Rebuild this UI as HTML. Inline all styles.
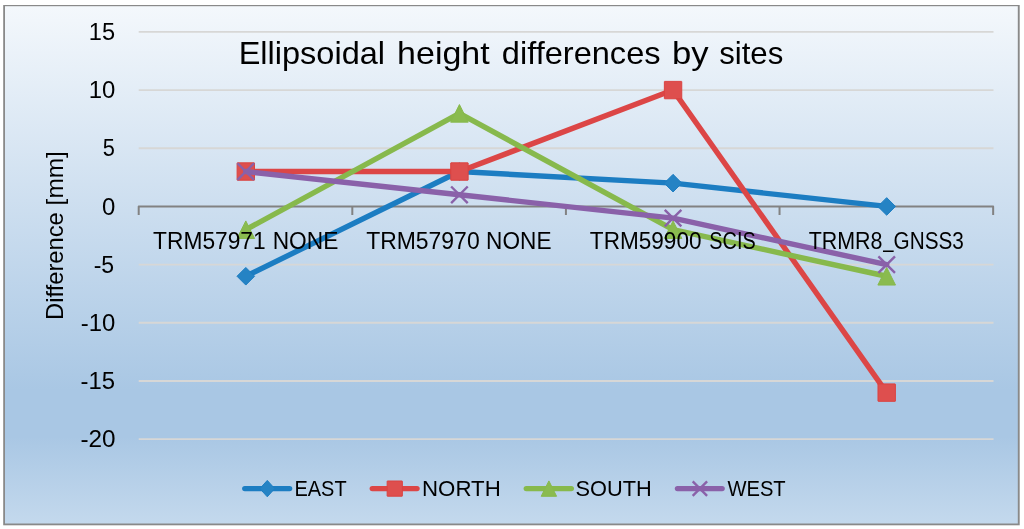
<!DOCTYPE html>
<html><head><meta charset="utf-8"><title>Ellipsoidal height differences by sites</title>
<style>
html,body{margin:0;padding:0;background:#fff;}
body{width:1024px;height:529px;overflow:hidden;}
svg{display:block;}
text{font-family:"Liberation Sans","NanumGothic",sans-serif;fill:#000;}
</style></head><body>
<svg width="1024" height="529" viewBox="0 0 1024 529">
<defs>
<linearGradient id="bg" gradientUnits="userSpaceOnUse" x1="0" y1="5" x2="0" y2="525">
<stop offset="0" stop-color="#F4F8FC"/>
<stop offset="0.74" stop-color="#A9C7E4"/>
<stop offset="0.83" stop-color="#A9C7E4"/>
<stop offset="1" stop-color="#C4D9ED"/>
</linearGradient>
</defs>
<rect x="0" y="0" width="1024" height="529" fill="#fff"/>
<rect x="3.2" y="5" width="1016.5" height="520.3" fill="#898989"/>
<rect x="5" y="6.2" width="1012.8" height="517.3" fill="url(#bg)"/>

<g stroke="#D7D7D6" stroke-width="1.9">
<line x1="138.7" x2="993.5" y1="31.90" y2="31.90"/>
<line x1="138.7" x2="993.5" y1="90.08" y2="90.08"/>
<line x1="138.7" x2="993.5" y1="148.26" y2="148.26"/>
<line x1="138.7" x2="993.5" y1="264.62" y2="264.62"/>
<line x1="138.7" x2="993.5" y1="322.80" y2="322.80"/>
<line x1="138.7" x2="993.5" y1="380.98" y2="380.98"/>
<line x1="138.7" x2="993.5" y1="439.16" y2="439.16"/>
</g>
<path d="M138.70 214.9V206.54H993.15V214.9M352.31 206.54V214.9M565.92 206.54V214.9M779.54 206.54V214.9" stroke="#828282" stroke-width="2" fill="none" stroke-linejoin="round"/>
<polyline points="245.80,276.26 459.43,171.53 673.06,183.17 886.69,206.44" fill="none" stroke="#1C7DC2" stroke-width="5.4" stroke-linecap="round" stroke-linejoin="round"/>
<path d="M245.80 267.46L254.60 276.26L245.80 285.06L237.00 276.26Z" fill="#2583C4" stroke="#1C7DC2" stroke-width="1" stroke-linejoin="round"/>
<path d="M459.43 162.73L468.23 171.53L459.43 180.33L450.63 171.53Z" fill="#2583C4" stroke="#1C7DC2" stroke-width="1" stroke-linejoin="round"/>
<path d="M673.06 174.37L681.86 183.17L673.06 191.97L664.26 183.17Z" fill="#2583C4" stroke="#1C7DC2" stroke-width="1" stroke-linejoin="round"/>
<path d="M886.69 197.64L895.49 206.44L886.69 215.24L877.89 206.44Z" fill="#2583C4" stroke="#1C7DC2" stroke-width="1" stroke-linejoin="round"/>
<polyline points="245.80,171.53 459.43,171.53 673.06,90.08 886.69,392.62" fill="none" stroke="#DC4646" stroke-width="5.4" stroke-linecap="round" stroke-linejoin="round"/>
<rect x="237.10" y="162.83" width="17.40" height="17.40" rx="0.3" fill="#DE4F4E" stroke="#DA4341" stroke-width="1"/>
<rect x="450.73" y="162.83" width="17.40" height="17.40" rx="0.3" fill="#DE4F4E" stroke="#DA4341" stroke-width="1"/>
<rect x="664.36" y="81.38" width="17.40" height="17.40" rx="0.3" fill="#DE4F4E" stroke="#DA4341" stroke-width="1"/>
<rect x="877.99" y="383.92" width="17.40" height="17.40" rx="0.3" fill="#DE4F4E" stroke="#DA4341" stroke-width="1"/>
<polyline points="245.80,229.71 459.43,113.35 673.06,229.71 886.69,276.26" fill="none" stroke="#87B94C" stroke-width="5.4" stroke-linecap="round" stroke-linejoin="round"/>
<path d="M245.80 220.91L254.60 238.51L237.00 238.51Z" fill="#8ABB4F" stroke="#87B94C" stroke-width="1" stroke-linejoin="round"/>
<path d="M459.43 104.55L468.23 122.15L450.63 122.15Z" fill="#8ABB4F" stroke="#87B94C" stroke-width="1" stroke-linejoin="round"/>
<path d="M673.06 220.91L681.86 238.51L664.26 238.51Z" fill="#8ABB4F" stroke="#87B94C" stroke-width="1" stroke-linejoin="round"/>
<path d="M886.69 267.46L895.49 285.06L877.89 285.06Z" fill="#8ABB4F" stroke="#87B94C" stroke-width="1" stroke-linejoin="round"/>
<polyline points="245.80,171.53 459.43,194.80 673.06,218.08 886.69,264.62" fill="none" stroke="#8A61A9" stroke-width="5.4" stroke-linecap="round" stroke-linejoin="round"/>
<path d="M237.50 163.23L254.10 179.83M254.10 163.23L237.50 179.83" stroke="#8A61A9" stroke-width="2.4" fill="none"/>
<path d="M451.13 186.50L467.73 203.10M467.73 186.50L451.13 203.10" stroke="#8A61A9" stroke-width="2.4" fill="none"/>
<path d="M664.76 209.78L681.36 226.38M681.36 209.78L664.76 226.38" stroke="#8A61A9" stroke-width="2.4" fill="none"/>
<path d="M878.39 256.32L894.99 272.92M894.99 256.32L878.39 272.92" stroke="#8A61A9" stroke-width="2.4" fill="none"/>
<text font-size="24" transform="translate(62.8,319.9) rotate(-90)"><tspan x="0" textLength="107.7" lengthAdjust="spacingAndGlyphs">Difference</tspan> <tspan x="114.5" textLength="54.3" lengthAdjust="spacingAndGlyphs">[mm]</tspan></text>
<line x1="244.8" x2="289.6" y1="488.6" y2="488.6" stroke="#1C7DC2" stroke-width="5.4" stroke-linecap="round"/>
<path d="M267.28 480.40L274.68 488.60L267.28 496.80L259.88 488.60Z" fill="#2583C4" stroke="#1C7DC2" stroke-width="1" stroke-linejoin="round"/>
<line x1="372.3" x2="417.0" y1="488.6" y2="488.6" stroke="#DC4646" stroke-width="5.4" stroke-linecap="round"/>
<rect x="387.15" y="481.00" width="15.20" height="15.20" rx="0.3" fill="#DE4F4E" stroke="#DA4341" stroke-width="1"/>
<line x1="526.3" x2="571.3" y1="488.6" y2="488.6" stroke="#87B94C" stroke-width="5.4" stroke-linecap="round"/>
<path d="M548.90 480.90L556.60 496.30L541.20 496.30Z" fill="#8ABB4F" stroke="#87B94C" stroke-width="1" stroke-linejoin="round"/>
<line x1="677.5" x2="722.1" y1="488.6" y2="488.6" stroke="#8A61A9" stroke-width="5.4" stroke-linecap="round"/>
<path d="M692.70 481.40L707.10 495.80M707.10 481.40L692.70 495.80" stroke="#8A61A9" stroke-width="2.4" fill="none"/>
<text font-size="32"><tspan x="238.65" y="64" textLength="146.38" lengthAdjust="spacingAndGlyphs">Ellipsoidal</tspan> <tspan x="397.10" y="64" textLength="92.58" lengthAdjust="spacingAndGlyphs">height</tspan> <tspan x="501.87" y="64" textLength="158.66" lengthAdjust="spacingAndGlyphs">differences</tspan> <tspan x="671.98" y="64" textLength="36.61" lengthAdjust="spacingAndGlyphs">by</tspan> <tspan x="719.15" y="64" textLength="64.10" lengthAdjust="spacingAndGlyphs">sites</tspan></text>
<text font-size="23.3"><tspan x="153.11" y="248.5" textLength="112.53" lengthAdjust="spacingAndGlyphs">TRM57971</tspan> <tspan x="272.71" y="248.5" textLength="65.65" lengthAdjust="spacingAndGlyphs">NONE</tspan></text>
<text font-size="23.3"><tspan x="366.19" y="248.5" textLength="113.45" lengthAdjust="spacingAndGlyphs">TRM57970</tspan> <tspan x="486.12" y="248.5" textLength="65.37" lengthAdjust="spacingAndGlyphs">NONE</tspan></text>
<text font-size="23.3"><tspan x="589.86" y="248.5" textLength="111.64" lengthAdjust="spacingAndGlyphs">TRM59900</tspan> <tspan x="709.34" y="248.5" textLength="46.32" lengthAdjust="spacingAndGlyphs">SCIS</tspan></text>
<text font-size="23.3"><tspan x="808.63" y="248.5" textLength="73.80" lengthAdjust="spacingAndGlyphs">TRMR8</tspan><tspan x="883.17" y="247.3" textLength="10.23" lengthAdjust="spacingAndGlyphs">_</tspan><tspan x="893.52" y="248.5" textLength="70.36" lengthAdjust="spacingAndGlyphs">GNSS3</tspan></text>
<text font-size="22.4"><tspan x="294.47" y="496.1" textLength="52.14" lengthAdjust="spacingAndGlyphs">EAST</tspan></text>
<text font-size="22.4"><tspan x="422.04" y="496.1" textLength="78.68" lengthAdjust="spacingAndGlyphs">NORTH</tspan></text>
<text font-size="22.4"><tspan x="575.53" y="496.1" textLength="76.22" lengthAdjust="spacingAndGlyphs">SOUTH</tspan></text>
<text font-size="22.4"><tspan x="727.39" y="496.1" textLength="58.30" lengthAdjust="spacingAndGlyphs">WEST</tspan></text>
<text font-size="24"><tspan x="88.85" y="40.1" textLength="26.23" lengthAdjust="spacingAndGlyphs">15</tspan></text>
<text font-size="24"><tspan x="88.81" y="98.28" textLength="26.59" lengthAdjust="spacingAndGlyphs">10</tspan></text>
<text font-size="24"><tspan x="102.64" y="156.46" textLength="12.12" lengthAdjust="spacingAndGlyphs">5</tspan></text>
<text font-size="24"><tspan x="101.93" y="214.64" textLength="13.33" lengthAdjust="spacingAndGlyphs">0</tspan></text>
<text font-size="24"><tspan x="93.66" y="272.82" textLength="20.47" lengthAdjust="spacingAndGlyphs">-5</tspan></text>
<text font-size="24"><tspan x="80.77" y="331.0" textLength="34.51" lengthAdjust="spacingAndGlyphs">-10</tspan></text>
<text font-size="24"><tspan x="80.49" y="389.18" textLength="34.51" lengthAdjust="spacingAndGlyphs">-15</tspan></text>
<text font-size="24"><tspan x="80.44" y="447.36" textLength="35.15" lengthAdjust="spacingAndGlyphs">-20</tspan></text>
</svg>
</body></html>
